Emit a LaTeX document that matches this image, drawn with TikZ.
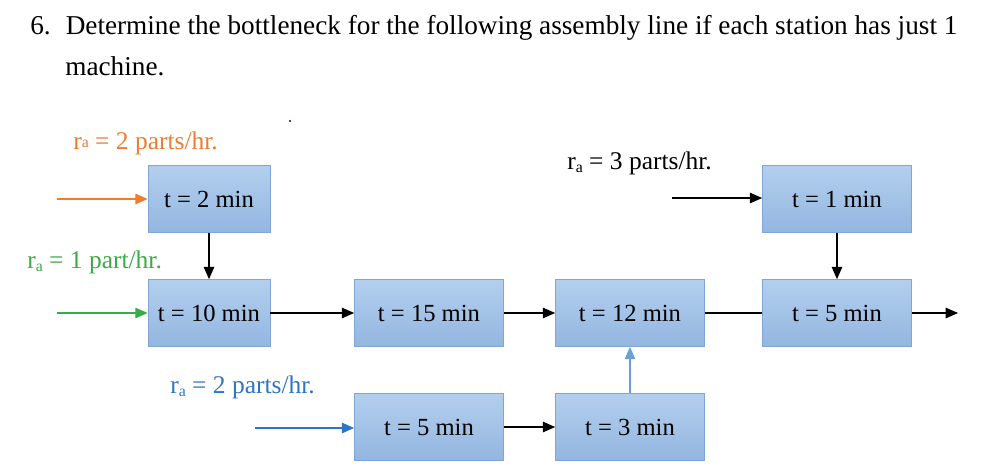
\documentclass[tikz,border=0pt]{standalone}
\usepackage{fontspec}
\setmainfont{Liberation Serif}
\usetikzlibrary{arrows.meta}
\definecolor{btop}{HTML}{B3CFEE}
\definecolor{bbot}{HTML}{93B6E0}
\definecolor{bdraw}{HTML}{7FA6D8}
\definecolor{orng}{HTML}{ED7D31}
\definecolor{grn}{HTML}{3DAA4A}
\definecolor{blu}{HTML}{2E75C6}
\definecolor{lblu}{HTML}{6A9FD8}
\newcommand{\rsub}{r\raisebox{-0.3ex}{\fontsize{9}{10}\selectfont a}}
\begin{document}
\begin{tikzpicture}[x=0.02cm,y=-0.02cm,
  box/.style={draw=bdraw,top color=btop,bottom color=bbot,minimum width=2.98cm,minimum height=1.34cm,inner sep=0pt,font=\fontsize{14}{16}\selectfont},
  arr/.style={-{Triangle[length=7pt,width=6pt]},line width=0.6pt},
  lab/.style={anchor=west,font=\fontsize{14.5}{16}\selectfont,inner sep=0pt}]
\useasboundingbox (0,0) rectangle (1002,474);
\node[anchor=west,inner sep=0pt,font=\fontsize{15.5}{18}\selectfont] (t1) at (30,28) {6.\hspace{0.55em}Determine the bottleneck for the following assembly line if each station has just 1};
\node[anchor=west,inner sep=0pt,font=\fontsize{15.5}{18}\selectfont] (t2) at (65,66) {machine.};
\fill[blue!50!black] (290,121) circle (1.2);
\node[box,minimum width=2.44cm] (a) at (209,199) {t = 2 min};
\node[box,minimum width=2.44cm] (b) at (209,313) {t = 10 min};
\node[box] (c) at (429,313) {t = 15 min};
\node[box] (d) at (630,313) {t = 12 min};
\node[box] (e) at (837,313) {t = 5 min};
\node[box] (f) at (837,199) {t = 1 min};
\node[box] (g) at (429,427) {t = 5 min};
\node[box] (h) at (630,427) {t = 3 min};
\node[lab,text=orng] (la) at (73,143) {r\raisebox{0.1ex}{\fontsize{9}{10}\selectfont a} = 2 parts/hr.};
\node[lab,text=grn] (lb) at (27,262) {\rsub{} = 1 part/hr.};
\node[lab] (lc) at (567,163) {\rsub{} = 3 parts/hr.};
\node[lab,text=blu] (ld) at (170,387) {\rsub{} = 2 parts/hr.};
\coordinate (ia) at (57,199);
\coordinate (ib) at (57,313);
\coordinate (ic) at (672,198);
\coordinate (id) at (255,428);
\coordinate (oe) at (958,313);
\draw[arr,orng] (ia) -- (a);
\draw[arr,grn] (ib) -- (b);
\draw[arr] (ic) -- (f.west|-ic);
\draw[arr,blu] (id) -- (g.west|-id);
\draw[arr] (a) -- (b);
\draw[arr] (b) -- (c);
\draw[arr] (c) -- (d);
\draw[line width=0.6pt] (d) -- (e);
\draw[arr] (e) -- (oe);
\draw[arr] (f) -- (e);
\draw[arr] (g) -- (h);
\draw[arr,lblu] (h) -- (d);
\end{tikzpicture}
\end{document}
